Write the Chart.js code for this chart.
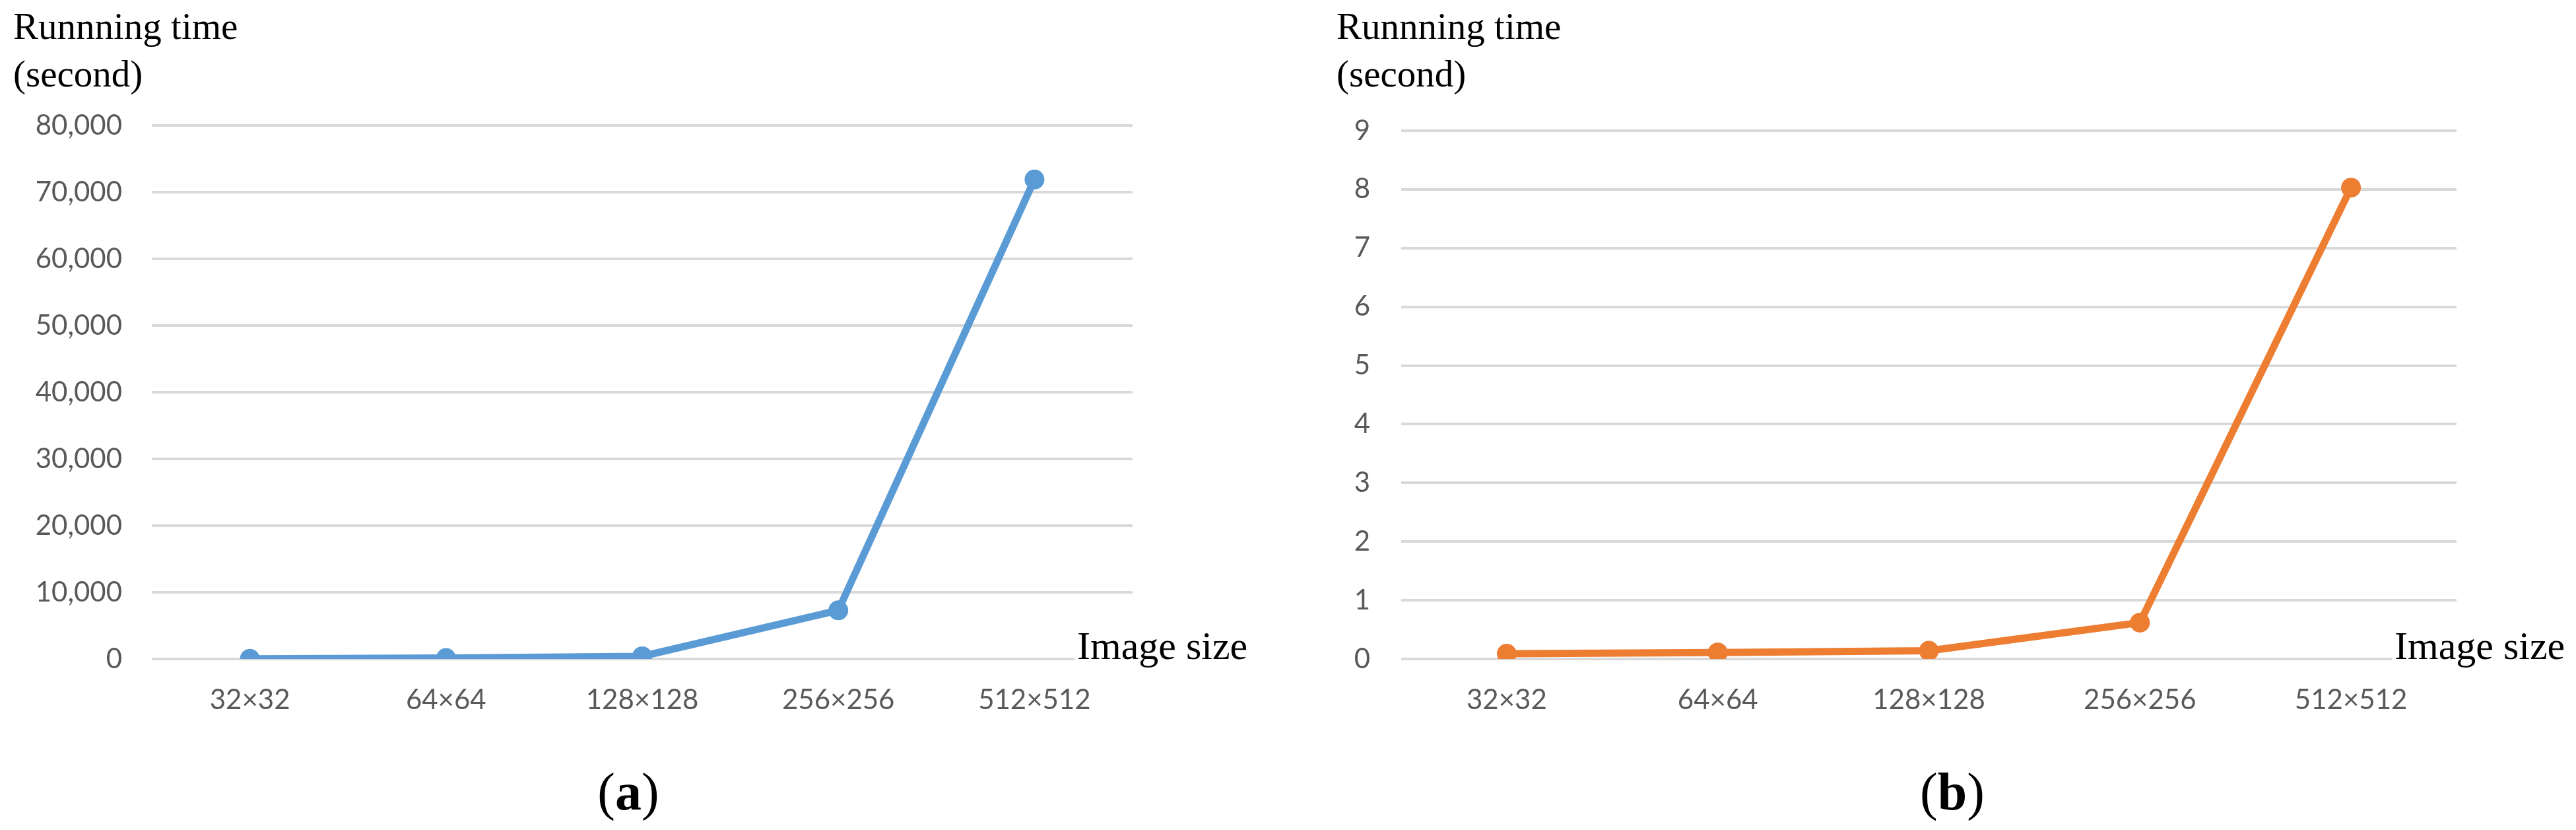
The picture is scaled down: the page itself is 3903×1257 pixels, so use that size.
<!DOCTYPE html>
<html>
<head>
<meta charset="utf-8">
<title>Running time vs image size</title>
<script src="https://cdn.jsdelivr.net/npm/chart.js"></script>
<style>
    html, body { margin: 0; padding: 0; background: #fff; }
    #wrap { position: relative; width: 3903px; height: 1257px; overflow: hidden; }
    canvas { position: absolute; top: 0; }
    #chartA { left: 0; }
    #chartB { left: 1950px; }
</style>
</head>
<body>
<div id="wrap">
    <canvas id="chartA" width="1950" height="1257"></canvas>
    <canvas id="chartB" width="1953" height="1257"></canvas>
</div>
<script>
// 데이터
const imageSizes = ['32×32', '64×64', '128×128', '256×256', '512×512'];
const timeA = [30, 150, 400, 7300, 71900];      // (a) seconds
const timeB = [0.09, 0.11, 0.14, 0.62, 8.03];   // (b) seconds
const ticksA = [0, 10000, 20000, 30000, 40000, 50000, 60000, 70000, 80000];
const ticksB = [0, 1, 2, 3, 4, 5, 6, 7, 8, 9];
const yTitle = ['Runnning time', '(second)'];
const xTitle = 'Image size';

const tickFont = { family: 'Lato, "Open Sans", sans-serif', size: 42 };
const tickColor = '#595959';
const gridColor = '#D9D9D9';

// 축 제목, 캡션 그리기
const panelText = {
    id: 'panelText',
    afterDraw(chart, args, o) {
        const { ctx, chartArea } = chart;
        ctx.save();
        ctx.textBaseline = 'alphabetic';
        ctx.textAlign = 'left';
        ctx.fillStyle = '#000';
        ctx.font = '57px "Liberation Serif", serif';
        ctx.fillText(yTitle[0], o.yTitleX, 59);
        ctx.fillText(yTitle[1], o.yTitleX, 131);

        ctx.font = '60px "Liberation Serif", serif';
        const w = ctx.measureText(xTitle).width;
        const x = chartArea.right + o.xTitleDx;
        ctx.fillStyle = '#fff';
        ctx.fillRect(x - 4, chartArea.bottom - 48, w + 8, 62);
        ctx.fillStyle = '#000';
        ctx.fillText(xTitle, x, chartArea.bottom);

        // (a) / (b) : 괄호는 보통, 글자는 굵게
        const reg = '80px "Liberation Serif", serif';
        const bold = 'bold 80px "Liberation Serif", serif';
        ctx.font = reg;
        const wp = ctx.measureText('(').width;
        const wq = ctx.measureText(')').width;
        ctx.font = bold;
        const wl = ctx.measureText(o.caption).width;
        let cx = o.captionX - (wp + wl + wq) / 2;
        const cy = 1226;
        ctx.font = reg;
        ctx.fillText('(', cx, cy);
        cx += wp;
        ctx.font = bold;
        ctx.fillText(o.caption, cx, cy);
        cx += wl;
        ctx.font = reg;
        ctx.fillText(')', cx, cy);
        ctx.restore();
    }
};

function makeChart(id, values, ticks, color, opts) {
    const ctx = document.getElementById(id).getContext('2d');
    return new Chart(ctx, {
        type: 'line',
        data: {
            labels: imageSizes,
            datasets: [{
                data: values,
                borderColor: color,
                backgroundColor: color,
                borderWidth: 11,
                pointRadius: 15,
                pointBorderWidth: 0,
                pointBackgroundColor: color,
                tension: 0,
                fill: false
            }]
        },
        options: {
            responsive: false,
            animation: false,
            layout: { padding: opts.padding },
            plugins: {
                legend: { display: false },
                title: { display: false },
                tooltip: { enabled: false },
                panelText: opts.text
            },
            scales: {
                x: {
                    offset: true,
                    grid: { display: false, drawTicks: false },
                    border: { display: false },
                    ticks: {
                        font: tickFont,
                        color: tickColor,
                        padding: 37,
                        maxRotation: 0,
                        autoSkip: false
                    },
                    afterFit: s => { s.height = 100; }
                },
                y: {
                    min: ticks[0],
                    max: ticks[ticks.length - 1],
                    grid: { color: gridColor, lineWidth: 4, drawTicks: false },
                    border: { display: false },
                    ticks: {
                        stepSize: ticks[1] - ticks[0],
                        font: tickFont,
                        color: tickColor,
                        padding: opts.yPad,
                        callback: v => v.toLocaleString('en-US')
                    },
                    afterFit: s => { s.width = opts.yWidth; }
                }
            }
        },
        plugins: [panelText]
    });
}

makeChart('chartA', timeA, ticksA, '#5B9BD5', {
    padding: { top: 190, right: 234, bottom: 159, left: 0 },
    yWidth: 230,
    yPad: 45,
    text: { yTitleX: 20, xTitleDx: -84, caption: 'a', captionX: 952 }
});

makeChart('chartB', timeB, ticksB, '#ED7D31', {
    padding: { top: 198, right: 181, bottom: 159, left: 0 },
    yWidth: 173,
    yPad: 47,
    text: { yTitleX: 75, xTitleDx: -94, caption: 'b', captionX: 1008 }
});
</script>
</body>
</html>
